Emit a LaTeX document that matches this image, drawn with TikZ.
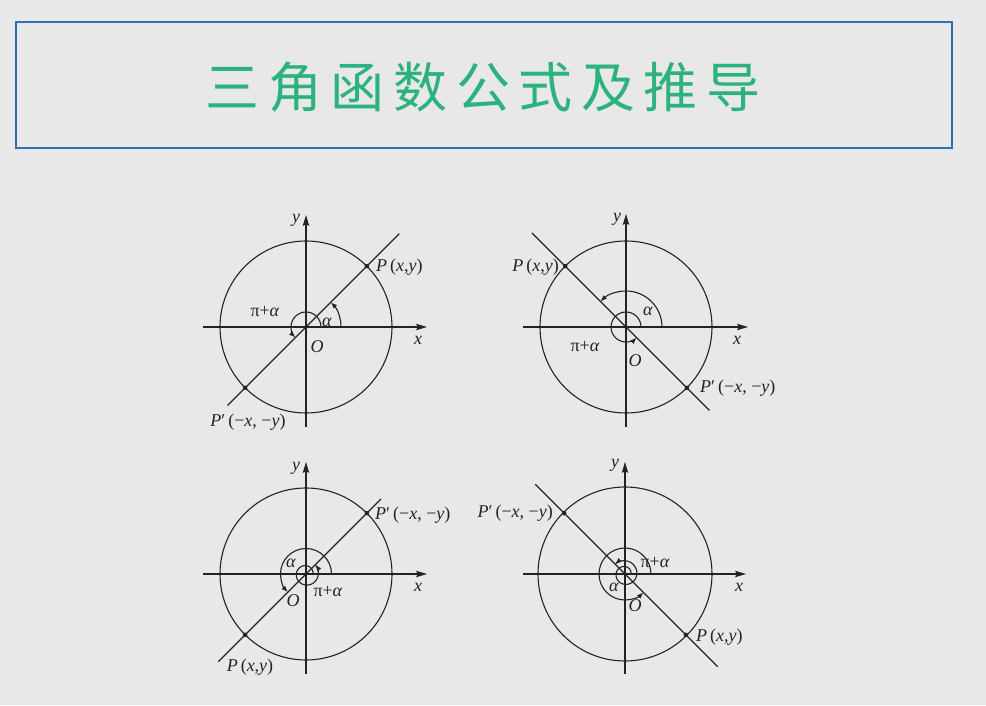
\documentclass[tikz,border=0pt]{standalone}
\usepackage{fontspec}
\setmainfont{Liberation Serif}
\newfontfamily\cjk[LetterSpace=16]{Noto Sans CJK SC}
\usetikzlibrary{arrows.meta}
\definecolor{bg}{RGB}{232,232,232}
\definecolor{framecol}{RGB}{46,112,180}
\definecolor{titlegreen}{RGB}{44,178,126}
\definecolor{ink}{RGB}{35,35,35}
\begin{document}
\begin{tikzpicture}[x=1pt,y=1pt,
  axis/.style={ink, line width=1.1pt, -{Stealth[length=11pt,width=6.5pt,inset=2pt]}},
  ln/.style={ink, line width=1.1pt},
  ang/.style={ink, line width=1.1pt, -{Latex[length=6.5pt,width=5pt]}},
  lab/.style={font=\fontsize{18}{18}\selectfont, text=ink, inner sep=0pt},
  dot/.style={circle, fill=ink, inner sep=0pt, minimum size=4.5pt}]
\fill[bg] (0,0) rectangle (986,705);
\useasboundingbox (0,0) rectangle (986,705);
\node[draw=framecol, line width=2.5pt, minimum width=936pt, minimum height=126pt, inner sep=0pt] (titlebox) at (484,620) {};
\node[text=titlegreen, font=\cjk\fontsize{54}{54}\selectfont, inner sep=0pt] (title) at (483,618) {三角函数公式及推导};

% ---------- diagram 1 (top left)
\begin{scope}[shift={(306,378)}]
\coordinate (O1) at (0,0);
\draw[ln] (O1) circle[radius=86];
\coordinate (x1a) at (-103,0); \coordinate (x1b) at (121,0);
\coordinate (y1a) at (0,-100); \coordinate (y1b) at (0,112);
\draw[axis] (x1a) -- (x1b);
\draw[axis] (y1a) -- (y1b);
\coordinate (l1a) at (225:111); \coordinate (l1b) at (45:132);
\draw[ln] (l1a) -- (l1b);
\node[dot] (P1) at (45:86) {};
\node[dot] (Q1) at (225:86) {};
\draw[ang] (35,0) arc[start angle=0, end angle=45, radius=35];
\draw[ang] (15,0) arc[start angle=0, end angle=225, radius=15];
\node[lab, anchor=west] (P1l) at (70,60) {\textit{P}\,(\textit{x},\textit{y})};
\node[lab] (Q1l) at (-58,-95) {\textit{P}′\,(−\textit{x}, −\textit{y})};
\node[lab] (pa1) at (-41,15) {π+\textit{α}};
\node[lab] (a1) at (21,5) {\textit{α}};
\node[lab] (O1l) at (11,-20) {\textit{O}};
\node[lab] (x1l) at (112,-13) {\textit{x}};
\node[lab] (y1l) at (-10,107) {\textit{y}};
\end{scope}

% ---------- diagram 2 (top right)
\begin{scope}[shift={(626,378)}]
\coordinate (O2) at (0,0);
\draw[ln] (O2) circle[radius=86];
\coordinate (x2a) at (-103,0); \coordinate (x2b) at (122,0);
\coordinate (y2a) at (0,-100); \coordinate (y2b) at (0,113);
\draw[axis] (x2a) -- (x2b);
\draw[axis] (y2a) -- (y2b);
\coordinate (l2a) at (135:133); \coordinate (l2b) at (315:118);
\draw[ln] (l2a) -- (l2b);
\node[dot] (P2) at (135:86) {};
\node[dot] (Q2) at (315:86) {};
\draw[ang] (36,0) arc[start angle=0, end angle=135, radius=36];
\draw[ang] (15,0) arc[start angle=0, end angle=315, radius=15];
\node[lab, anchor=east] (P2l) at (-67,60) {\textit{P}\,(\textit{x},\textit{y})};
\node[lab, anchor=west] (Q2l) at (74,-61) {\textit{P}′\,(−\textit{x}, −\textit{y})};
\node[lab] (a2) at (22,16) {\textit{α}};
\node[lab] (pa2) at (-41,-20) {π+\textit{α}};
\node[lab] (O2l) at (9,-34) {\textit{O}};
\node[lab] (x2l) at (111,-13) {\textit{x}};
\node[lab] (y2l) at (-9,108) {\textit{y}};
\end{scope}

% ---------- diagram 3 (bottom left)
\begin{scope}[shift={(306,131)}]
\coordinate (O3) at (0,0);
\draw[ln] (O3) circle[radius=86];
\coordinate (x3a) at (-103,0); \coordinate (x3b) at (121,0);
\coordinate (y3a) at (0,-100); \coordinate (y3b) at (0,112);
\draw[axis] (x3a) -- (x3b);
\draw[axis] (y3a) -- (y3b);
\coordinate (l3a) at (225:124); \coordinate (l3b) at (45:106);
\draw[ln] (l3a) -- (l3b);
\node[dot] (Q3) at (45:86) {};
\node[dot] (P3) at (225:86) {};
\draw[ang] (25.5,0) arc[start angle=0, end angle=225, radius=25.5];
\draw[ang] plot[domain=0:405, samples=120, smooth] ({(7+6*\x/405)*cos(\x)}, {(7+6*\x/405)*sin(\x)});
\node[lab, anchor=west] (Q3l) at (69,59) {\textit{P}′\,(−\textit{x}, −\textit{y})};
\node[lab] (P3l) at (-56,-93) {\textit{P}\,(\textit{x},\textit{y})};
\node[lab] (a3) at (-15,11) {\textit{α}};
\node[lab] (pa3) at (22,-18) {π+\textit{α}};
\node[lab] (O3l) at (-13,-27) {\textit{O}};
\node[lab] (x3l) at (112,-13) {\textit{x}};
\node[lab] (y3l) at (-10,106) {\textit{y}};
\end{scope}

% ---------- diagram 4 (bottom right)
\begin{scope}[shift={(625,131)}]
\coordinate (O4) at (0,0);
\draw[ln] (O4) circle[radius=87];
\coordinate (x4a) at (-102,0); \coordinate (x4b) at (121,0);
\coordinate (y4a) at (0,-100); \coordinate (y4b) at (0,112);
\draw[axis] (x4a) -- (x4b);
\draw[axis] (y4a) -- (y4b);
\coordinate (l4a) at (135:127); \coordinate (l4b) at (315:131);
\draw[ln] (l4a) -- (l4b);
\node[dot] (Q4) at (135:86) {};
\node[dot] (P4) at (315:86) {};
\draw[ang] (26,0) arc[start angle=0, end angle=315, radius=26];
\draw[ang] plot[domain=0:495, samples=140, smooth] ({(6+8*\x/495)*cos(\x)}, {(6+8*\x/495)*sin(\x)});
\node[lab, anchor=east] (Q4l) at (-72,61) {\textit{P}′\,(−\textit{x}, −\textit{y})};
\node[lab, anchor=west] (P4l) at (71,-63) {\textit{P}\,(\textit{x},\textit{y})};
\node[lab] (pa4) at (30,11) {π+\textit{α}};
\node[lab] (a4) at (-11,-13) {\textit{α}};
\node[lab] (O4l) at (10,-32) {\textit{O}};
\node[lab] (x4l) at (114,-13) {\textit{x}};
\node[lab] (y4l) at (-10,109) {\textit{y}};
\end{scope}
\end{tikzpicture}
\end{document}
